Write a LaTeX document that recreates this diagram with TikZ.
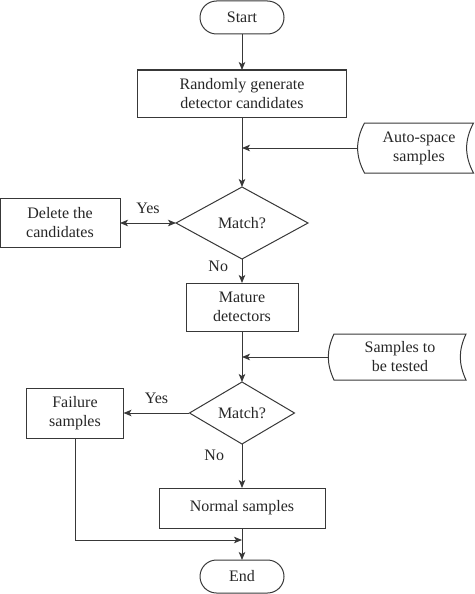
\documentclass[tikz,border=0pt]{standalone}
\usepackage{fontspec}
\setmainfont{Liberation Serif}
\usetikzlibrary{positioning,shapes.geometric,arrows.meta}

\begin{document}
\begin{tikzpicture}[x=1pt, y=1pt, line width=1pt, draw=black!78, text=black!85,
        font=\fontsize{16}{19}\selectfont,
        every node/.style = {align=center, inner sep=0pt, outer sep=0pt},
        box/.style = {draw, rectangle},
        term/.style = {draw, rectangle, rounded corners=16.5pt, minimum width=84pt, minimum height=33pt},
        test/.style = {draw, diamond},
        store/.style = {rectangle},
        >={Stealth[length=8pt, width=6.5pt, inset=2pt]}]
        \useasboundingbox (0,0) rectangle (474,-594);

        \node[term] (start) at (242,-17.5) {Start};
        \node[box, minimum width=209pt, minimum height=47pt] (gen) [below=36pt of start] {Randomly generate\\detector candidates};
        \node[test, minimum width=132pt, minimum height=72pt] (match1) [below=70pt of gen] {Match?};
        \node[box, minimum width=120pt, minimum height=49pt] (del) [left=56pt of match1] {Delete the\\candidates};
        \node[box, minimum width=112pt, minimum height=48pt] (mature) [below=24pt of match1] {Mature\\detectors};
        \node[test, minimum width=105pt, minimum height=62pt] (match2) [below=51pt of mature] {Match?};
        \node[box, minimum width=97pt, minimum height=50pt] (fail) [left=66pt of match2] {Failure\\samples};
        \node[box, minimum width=166pt, minimum height=40pt] (normal) [below=44pt of match2] {Normal samples};
        \node[term] (end) [below=32pt of normal] {End};

        % stored data inputs
        \node[store, minimum width=109pt, minimum height=50pt] (auto) [below right=29.5pt and 18pt of gen.east] {Auto-space\\samples};
        \node[store, minimum width=132pt, minimum height=46pt] (tested) [below right=27pt and 36pt of mature.east] {Samples to\\be tested};
        \draw (auto.north west) -- (auto.north east) to[bend right=28] (auto.south east) -- (auto.south west) to[bend left=28] (auto.north west) -- cycle;
        \draw (tested.north west) -- (tested.north east) to[bend right=25] (tested.south east) -- (tested.south west) to[bend left=25] (tested.north west) -- cycle;

        \coordinate (j1) at (auto.west -| gen.south);
        \coordinate (j2) at (tested.west -| mature.south);
        \coordinate (j3) at (242,-540);

        \draw[->] (start) -- (gen);
        \draw[->] (gen) -- (match1);
        \draw[->] ([xshift=-7pt]auto.west) -- (j1);
        \draw[<->] (del) -- (match1) node [midway, above=9pt] {Yes};
        \draw[->] (match1) -- (mature) node [pos=0.3, left=14pt] {No};
        \draw[->] (mature) -- (match2);
        \draw[->] ([xshift=-6pt]tested.west) -- (j2);
        \draw[->] (match2) -- (fail) node [midway, above=9pt] {Yes};
        \draw[->] (match2) -- (normal) node [pos=0.25, left=18pt] {No};
        \draw[->] (normal) -- (end);
        \draw[->] (fail) |- (j3);
    \end{tikzpicture}
\end{document}
